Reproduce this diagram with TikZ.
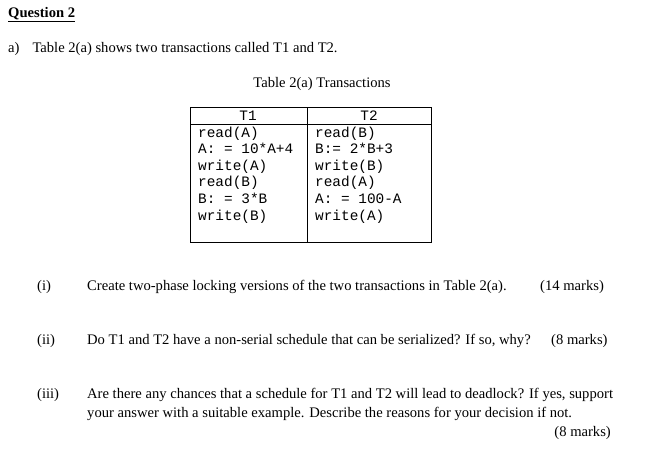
\documentclass[tikz,border=0pt]{standalone}
\usepackage{fontspec}
\setmainfont{Liberation Serif}
\setmonofont{Liberation Mono}
\begin{document}
\begin{tikzpicture}[x=1pt,y=-1pt,
  txt/.style={anchor=base west,inner sep=0pt,font=\fontsize{14.6}{16}\selectfont},
  code/.style={anchor=base west,inner sep=0pt,font=\ttfamily\fontsize{14.4}{15}\selectfont},
  tline/.style={line width=1pt}]
\useasboundingbox (0,0) rectangle (656,453);
\node[txt,font=\bfseries\fontsize{14.6}{16}\selectfont] (q) at (8,17) {\underline{Question 2}};
\node[txt] (a) at (8,52) {a)\hspace{13pt}Table 2(a) shows two transactions called T1 and T2.};
\node[txt,anchor=base] (cap) at (322,87) {Table 2(a) Transactions};
\draw[tline] (190,107) rectangle (431,242);
\draw[tline] (307,107) -- (307,242);
\draw[tline] (190,124) -- (431,124);
\node[code,anchor=base] (h1) at (248,120) {T1};
\node[code,anchor=base] (h2) at (369,120) {T2};
\foreach \i/\l/\r in {0/read(A)/read(B),1/A: = 10*A+4/B:= 2*B+3,2/write(A)/write(B),3/read(B)/read(A),4/B: = 3*B/A: = 100-A,5/write(B)/write(A)}{
  \node[code] (l\i) at (198,{137+16.6*\i}) {\l};
  \node[code] (r\i) at (315,{137+16.6*\i}) {\r};
}
\node[txt] (i1) at (37,290) {(i)};
\node[txt] (t1) at (87,290) {Create two-phase locking versions of the two transactions in Table 2(a).};
\node[txt] (m1) at (540,290) {(14 marks)};
\node[txt] (i2) at (37,344) {(ii)};
\node[txt] (t2) at (87,344) {Do T1 and T2 have a non-serial schedule that can be serialized? If so, why?};
\node[txt] (m2) at (551,344) {(8 marks)};
\node[txt] (i3) at (37,398) {(iii)};
\node[txt] (t3) at (87,398) {Are there any chances that a schedule for T1 and T2 will lead to deadlock? If yes, support};
\node[txt] (t3b) at (87,417) {your answer with a suitable example. Describe the reasons for your decision if not.};
\node[txt,anchor=base east] (m3) at (611,436) {(8 marks)};
\end{tikzpicture}
\end{document}
